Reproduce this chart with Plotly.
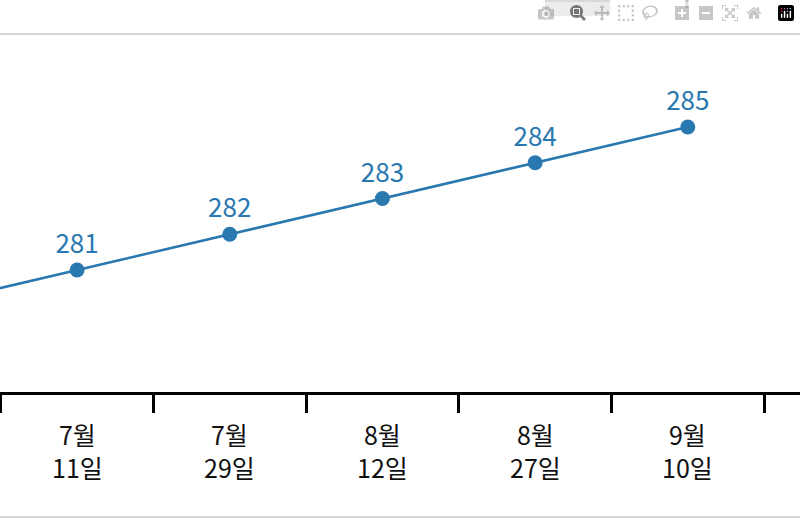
import plotly.graph_objects as go

# index -1 is the earlier point that falls off the left edge
pos = [-1, 0, 1, 2, 3, 4]
values = [280, 281, 282, 283, 284, 285]
labels = ["7월<br>11일", "7월<br>29일", "8월<br>12일", "8월<br>27일", "9월<br>10일"]

blue = "#2a78b0"
H = 523

fig = go.Figure()
fig.add_trace(go.Scatter(
    x=pos, y=values, mode="lines+markers+text",
    text=[str(v) for v in values], textposition="top center",
    textfont=dict(size=26, color=blue, family="Noto Sans CJK KR"),
    line=dict(color=blue, width=2.5),
    marker=dict(size=15, color=blue),
    cliponaxis=True, hoverinfo="skip",
))

for i, lab in enumerate(labels):
    fig.add_annotation(x=i, y=1 - 450 / H, xref="x", yref="paper", text=lab,
                       showarrow=False, font=dict(size=25, color="#111",
                       family="Noto Sans CJK KR"), yanchor="middle")

fig.update_layout(
    width=800, height=H, margin=dict(l=0, r=0, t=0, b=0, autoexpand=False),
    plot_bgcolor="white", paper_bgcolor="white", showlegend=False,
    xaxis=dict(range=[-0.505, 4.735], tickvals=[-0.5, 0.5, 1.5, 2.5, 3.5, 4.5],
               ticktext=[""] * 6, ticks="outside", ticklen=18, tickwidth=2.5,
               tickcolor="black", showline=True, linecolor="black", linewidth=2.5,
               showgrid=False, zeroline=False, anchor="y"),
    yaxis=dict(domain=[1 - 392 / H, 1 - 34 / H], range=[277.59, 287.6],
               visible=False, showgrid=False),
    shapes=[
        dict(type="line", xref="paper", yref="paper", x0=0, x1=1,
             y0=1 - 34 / H, y1=1 - 34 / H, line=dict(color="#d6d6d6", width=2)),
        dict(type="line", xref="paper", yref="paper", x0=0, x1=1,
             y0=1 - 517 / H, y1=1 - 517 / H, line=dict(color="#d6d6d6", width=2)),
        dict(type="rect", xref="paper", yref="paper", x0=545 / 800, x1=610 / 800,
             y0=1 - 16 / H, y1=1.02, fillcolor="#d9d9d9", line=dict(width=0)),
        dict(type="line", xref="paper", yref="paper", x0=687 / 800, x1=687 / 800,
             y0=1 - 8 / H, y1=1, line=dict(color="#bbbbbb", width=3)),
    ],
)

fig.write_html("out.html",
               post_script="document.body.style.margin='0';document.body.style.overflow='hidden';")
